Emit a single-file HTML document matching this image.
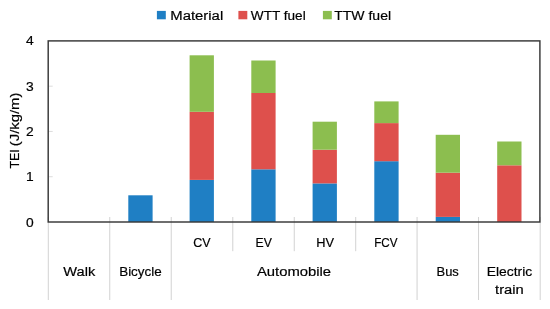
<!DOCTYPE html><html><head><meta charset="utf-8"><title>TEI chart</title><style>html,body{margin:0;padding:0;background:#fff}svg{display:block}text{font-family:"Liberation Sans",sans-serif;fill:#000;stroke:#000;stroke-width:0.2px}</style></head><body>
<svg width="550" height="309" viewBox="0 0 550 309">
<rect width="550" height="309" fill="#fff"/>
<line x1="48.30" y1="217" x2="48.30" y2="300" stroke="#d2d2d2" stroke-width="1"/>
<line x1="109.76" y1="217" x2="109.76" y2="300" stroke="#d2d2d2" stroke-width="1"/>
<line x1="171.22" y1="217" x2="171.22" y2="300" stroke="#d2d2d2" stroke-width="1"/>
<line x1="417.07" y1="217" x2="417.07" y2="300" stroke="#d2d2d2" stroke-width="1"/>
<line x1="478.54" y1="217" x2="478.54" y2="300" stroke="#d2d2d2" stroke-width="1"/>
<line x1="540.20" y1="217" x2="540.20" y2="300" stroke="#d2d2d2" stroke-width="1"/>
<line x1="232.79" y1="217" x2="232.79" y2="251.2" stroke="#d2d2d2" stroke-width="1"/>
<line x1="294.25" y1="217" x2="294.25" y2="251.2" stroke="#d2d2d2" stroke-width="1"/>
<line x1="355.71" y1="217" x2="355.71" y2="251.2" stroke="#d2d2d2" stroke-width="1"/>
<line x1="48.2" y1="176.72" x2="52.7" y2="176.72" stroke="#dcdcdc" stroke-width="1"/>
<line x1="48.2" y1="131.45" x2="52.7" y2="131.45" stroke="#dcdcdc" stroke-width="1"/>
<line x1="48.2" y1="86.18" x2="52.7" y2="86.18" stroke="#dcdcdc" stroke-width="1"/>
<rect x="128.30" y="195.30" width="24.3" height="26.70" fill="#1f7fc4"/>
<rect x="189.60" y="179.90" width="24.3" height="42.10" fill="#1f7fc4"/>
<rect x="189.60" y="111.80" width="24.3" height="68.10" fill="#de504c"/>
<rect x="189.60" y="55.30" width="24.3" height="56.50" fill="#8cbe4f"/>
<rect x="251.30" y="169.30" width="24.3" height="52.70" fill="#1f7fc4"/>
<rect x="251.30" y="93.00" width="24.3" height="76.30" fill="#de504c"/>
<rect x="251.30" y="60.50" width="24.3" height="32.50" fill="#8cbe4f"/>
<rect x="312.60" y="183.40" width="24.3" height="38.60" fill="#1f7fc4"/>
<rect x="312.60" y="149.70" width="24.3" height="33.70" fill="#de504c"/>
<rect x="312.60" y="121.70" width="24.3" height="28.00" fill="#8cbe4f"/>
<rect x="374.30" y="161.20" width="24.3" height="60.80" fill="#1f7fc4"/>
<rect x="374.30" y="123.10" width="24.3" height="38.10" fill="#de504c"/>
<rect x="374.30" y="101.40" width="24.3" height="21.70" fill="#8cbe4f"/>
<rect x="435.70" y="216.90" width="24.3" height="5.10" fill="#1f7fc4"/>
<rect x="435.70" y="172.70" width="24.3" height="44.20" fill="#de504c"/>
<rect x="435.70" y="134.80" width="24.3" height="37.90" fill="#8cbe4f"/>
<rect x="497.20" y="165.30" width="24.3" height="56.70" fill="#de504c"/>
<rect x="497.20" y="141.50" width="24.3" height="23.80" fill="#8cbe4f"/>
<rect x="48.2" y="40.9" width="491.70" height="181.10" fill="none" stroke="#383838" stroke-width="1.45"/>
<rect x="156.9" y="10.9" width="8.9" height="8.4" fill="#1f7fc4"/>
<rect x="238.4" y="10.9" width="8.9" height="8.4" fill="#de504c"/>
<rect x="322.9" y="10.9" width="8.9" height="8.4" fill="#8cbe4f"/>
<text x="170.30" y="19.8" font-size="13.7" textLength="52.90" lengthAdjust="spacingAndGlyphs">Material</text>
<text x="250.80" y="19.8" font-size="13.7" textLength="54.90" lengthAdjust="spacingAndGlyphs">WTT fuel</text>
<text x="334.20" y="19.8" font-size="13.7" textLength="56.90" lengthAdjust="spacingAndGlyphs">TTW fuel</text>
<text x="25.90" y="226.5" font-size="13.7" textLength="7.70" lengthAdjust="spacingAndGlyphs">0</text>
<text x="25.90" y="181.22" font-size="13.7" textLength="7.70" lengthAdjust="spacingAndGlyphs">1</text>
<text x="25.90" y="135.95" font-size="13.7" textLength="7.70" lengthAdjust="spacingAndGlyphs">2</text>
<text x="25.90" y="90.68" font-size="13.7" textLength="7.70" lengthAdjust="spacingAndGlyphs">3</text>
<text x="25.90" y="45.4" font-size="13.7" textLength="7.70" lengthAdjust="spacingAndGlyphs">4</text>
<text transform="translate(19.4,168.6) rotate(-90)" font-size="13.7"><tspan textLength="19.4" lengthAdjust="spacingAndGlyphs">TEI</tspan><tspan x="22.4" textLength="53.6" lengthAdjust="spacingAndGlyphs">(J/kg/m)</tspan></text>
<text x="193.20" y="246.6" font-size="13.7" textLength="17.30" lengthAdjust="spacingAndGlyphs">CV</text>
<text x="255.50" y="246.6" font-size="13.7" textLength="16.30" lengthAdjust="spacingAndGlyphs">EV</text>
<text x="316.30" y="246.6" font-size="13.7" textLength="17.80" lengthAdjust="spacingAndGlyphs">HV</text>
<text x="374.20" y="246.6" font-size="13.7" textLength="23.30" lengthAdjust="spacingAndGlyphs">FCV</text>
<text x="63.30" y="275.6" font-size="13.7" textLength="31.90" lengthAdjust="spacingAndGlyphs">Walk</text>
<text x="119.20" y="275.6" font-size="13.7" textLength="42.50" lengthAdjust="spacingAndGlyphs">Bicycle</text>
<text x="256.90" y="275.7" font-size="13.7" textLength="74.20" lengthAdjust="spacingAndGlyphs">Automobile</text>
<text x="436.50" y="275.5" font-size="13.7" textLength="22.30" lengthAdjust="spacingAndGlyphs">Bus</text>
<text x="486.70" y="276" font-size="13.7" textLength="45.50" lengthAdjust="spacingAndGlyphs">Electric</text>
<text x="495.10" y="294.3" font-size="13.7" textLength="28.70" lengthAdjust="spacingAndGlyphs">train</text>
</svg></body></html>
